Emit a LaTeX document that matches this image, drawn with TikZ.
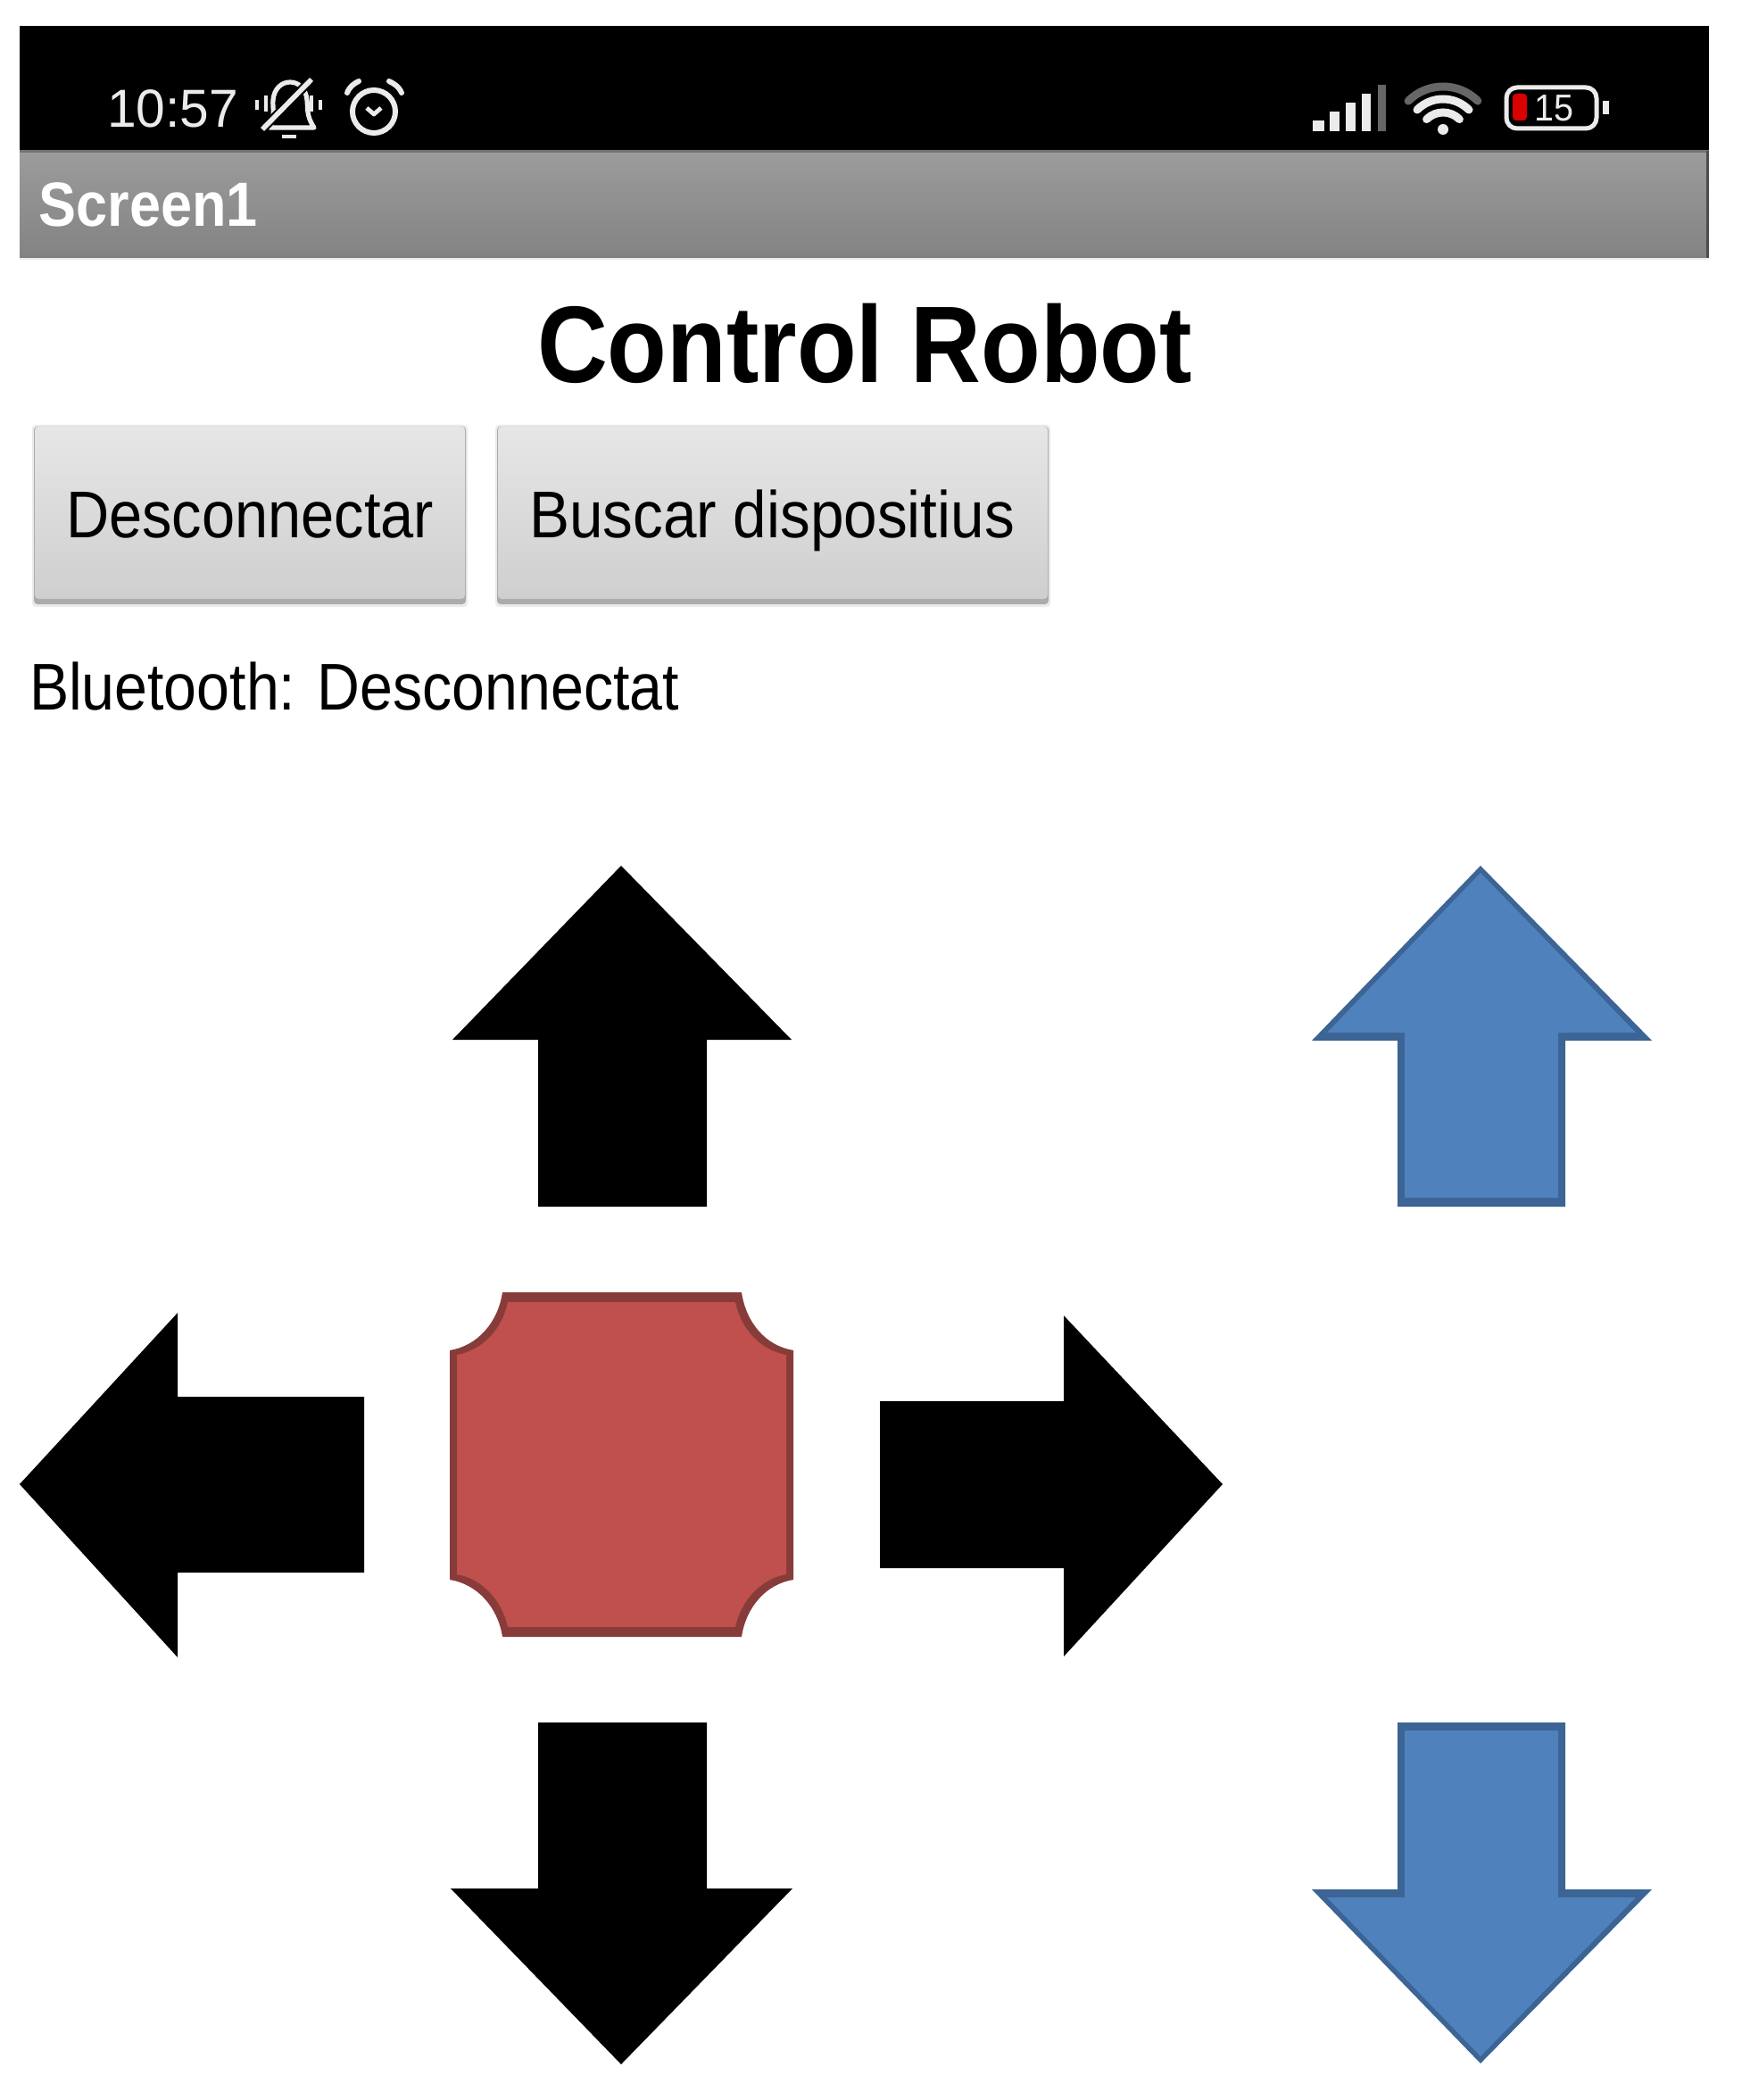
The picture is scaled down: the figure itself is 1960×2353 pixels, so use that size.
\documentclass[tikz,border=0pt]{standalone}
\usepackage{fontspec}
\usepackage{graphicx}
\setmainfont{Liberation Sans}
\newcommand{\fitw}[2]{\resizebox{#1}{\height}{#2}}
\tikzset{
  x=0.5pt,y=-0.5pt,
  lbl/.style={inner sep=0pt,outer sep=0pt,anchor=base west},
  icon/.style={draw=white!92!black,line width=2.5pt},
  btn/.style={top color=btntop,bottom color=btnbot,draw=none},
  btnedge/.style={fill=btnedgec,draw=none},
  solidarrow/.style={fill=black,draw=none},
  blueout/.style={fill=bluestroke,draw=none},
  bluein/.style={fill=bluefill,draw=none},
  redout/.style={fill=redstroke,draw=none},
  redin/.style={fill=redfill,draw=none},
}
\definecolor{btntop}{HTML}{E6E6E6}
\definecolor{btnbot}{HTML}{CFCFCF}
\definecolor{btnedgec}{HTML}{ABABAB}
\definecolor{bluestroke}{HTML}{3C6494}
\definecolor{bluefill}{HTML}{4F81BD}
\definecolor{redstroke}{HTML}{873C3A}
\definecolor{redfill}{HTML}{C0504D}
\definecolor{bartop}{HTML}{9C9C9C}
\definecolor{barbot}{HTML}{838383}
\begin{document}
\begin{tikzpicture}
\useasboundingbox (0,0) rectangle (1960,2353);
\fill[white] (0,0) rectangle (1960,2353);

% status bar
\fill[black] (22,29) rectangle (1915,169);
\shade[top color=bartop,bottom color=barbot] (22,169) rectangle (1915,288);
\fill[black!55] (22,168) rectangle (1915,171);
\fill[black!50] (22,286) rectangle (1915,289);
\fill[black!8] (22,289) rectangle (1915,291);
\fill[black!70] (1912,169) rectangle (1915,289);

\node[lbl,text=white!92!black] (time) at (120,143) {\fontsize{30pt}{30pt}\selectfont\fitw{73.5pt}{10:57}};
\node[lbl,text=white,font=\bfseries] (screen) at (44,254) {\fontsize{35pt}{35pt}\selectfont\fitw{122.5pt}{Screen1}};

% muted bell
\begin{scope}[xshift=1.5pt]
\draw[icon,line width=2.6pt,line join=round] (299,143) .. controls (306,130) and (302,120) .. (303,112) .. controls (304,100) and (312,92) .. (322,92) .. controls (332,92) and (340,100) .. (341,112) .. controls (342,120) and (340,130) .. (349,143) -- cycle;
\draw[black,line width=5pt] (291,145) -- (347,88);
\draw[icon,line width=2.8pt] (291,145) -- (346,89);
\draw[icon,line width=2.2pt] (285,112) -- (285,123);
\draw[icon,line width=2.2pt] (295,107) -- (295,125);
\draw[icon,line width=2.2pt] (346,107) -- (346,125);
\draw[icon,line width=2.2pt] (356,112) -- (356,123);
\draw[icon,line width=2.2pt] (313,153) -- (329,153);
\end{scope}

% alarm clock
\draw[icon,line width=3pt] (419,125) circle [radius=24];
\draw[icon,line width=3pt,line cap=round] (389,104) .. controls (392,97) and (396,94) .. (402,91);
\draw[icon,line width=3pt,line cap=round] (436,91) .. controls (442,94) and (447,97) .. (450,104);
\draw[icon,line width=2.4pt,line join=round] (411,121) -- (419,128) -- (427,121);

% signal
\fill[white!92!black] (1471,135) rectangle (1484,147);
\fill[white!92!black] (1490,125) rectangle (1501,147);
\fill[white!92!black] (1508,115) rectangle (1519,147);
\fill[white!92!black] (1526,105) rectangle (1536,147);
\fill[black!60] (1544,95) rectangle (1553,147);

% wifi
\draw[black!60,line width=4.5pt,line cap=round] (1617,152) ++(-45:55) arc[start angle=-45,end angle=-135,radius=55];
\draw[icon,line width=4.5pt,line cap=round] (1617,152) ++(-45:41) arc[start angle=-45,end angle=-135,radius=41];
\draw[icon,line width=4.5pt,line cap=round] (1617,152) ++(-45:26) arc[start angle=-45,end angle=-135,radius=26];
\fill[white!92!black] (1617,145) circle [radius=6];

% battery
\draw[icon,rounded corners=6pt] (1688,98) rectangle (1789,144);
\fill[red!85!black,rounded corners=2pt] (1695,105) rectangle (1711,135);
\node[lbl,text=white!92!black] (batt) at (1719,136) {\fontsize{21pt}{21pt}\selectfont\fitw{22pt}{15}};
\fill[white!92!black] (1796,113) rectangle (1803,128);

% title
\node[lbl,font=\bfseries] (title) at (602,429) {\fontsize{61pt}{61pt}\selectfont\fitw{367pt}{Control Robot}};

% buttons
\fill[black!8,rounded corners=2pt] (36,476) rectangle (524,680);
\fill[black!8,rounded corners=2pt] (555,476) rectangle (1177,680);
\path[btnedge,rounded corners=2pt] (38,478) rectangle (522,677);
\shade[btn,rounded corners=2pt] (39,478) rectangle (521,671);
\path[btnedge,rounded corners=2pt] (557,478) rectangle (1175,677);
\shade[btn,rounded corners=2pt] (558,478) rectangle (1174,671);
\node[lbl] (b1) at (74,603) {\fontsize{37pt}{37pt}\selectfont\fitw{206pt}{Desconnectar}};
\node[lbl] (b2) at (593,603) {\fontsize{37pt}{37pt}\selectfont\fitw{272pt}{Buscar dispositius}};
\node[lbl] (bt) at (33,795) {\fontsize{37pt}{37pt}\selectfont\fitw{364pt}{Bluetooth: Desconnectat}};

% black arrows
\path[solidarrow] (696,970) -- (887,1165) -- (792,1165) -- (792,1352) -- (603,1352) -- (603,1165) -- (507,1165) -- cycle;
\path[solidarrow] (22,1663) -- (199,1471) -- (199,1565) -- (408,1565) -- (408,1762) -- (199,1762) -- (199,1857) -- cycle;
\path[solidarrow] (1370,1663) -- (1192,1474) -- (1192,1570) -- (986,1570) -- (986,1757) -- (1192,1757) -- (1192,1856) -- cycle;
\path[solidarrow] (696,2313) -- (888,2116) -- (792,2116) -- (792,1930) -- (603,1930) -- (603,2116) -- (505,2116) -- cycle;

% blue arrows
\path[blueout] (1659,970) -- (1851,1166) -- (1754,1166) -- (1754,1352) -- (1566,1352) -- (1566,1166) -- (1470,1166) -- cycle;
\path[bluein] (1659,978) -- (1833,1157) -- (1746,1157) -- (1746,1342) -- (1574,1342) -- (1574,1157) -- (1487,1157) -- cycle;
\path[blueout] (1659,2312) -- (1851,2117) -- (1754,2117) -- (1754,1930) -- (1566,1930) -- (1566,2117) -- (1470,2117) -- cycle;
\path[bluein] (1659,2304) -- (1833,2126) -- (1746,2126) -- (1746,1939) -- (1574,1939) -- (1574,2126) -- (1487,2126) -- cycle;

% stop button
\path[redout]
  (563,1448) -- (831,1448)
  .. controls (836,1482) and (858,1508) .. (889,1513)
  -- (889,1770)
  .. controls (858,1775) and (836,1801) .. (831,1834)
  -- (563,1834)
  .. controls (558,1801) and (535,1775) .. (504,1770)
  -- (504,1513)
  .. controls (535,1508) and (558,1482) .. (563,1448) -- cycle;
\path[redin]
  (569,1459) -- (824,1459)
  .. controls (830,1489) and (852,1513) .. (881,1518)
  -- (881,1764)
  .. controls (852,1769) and (830,1794) .. (824,1823)
  -- (569,1823)
  .. controls (563,1794) and (541,1769) .. (512,1764)
  -- (512,1518)
  .. controls (541,1513) and (563,1489) .. (569,1459) -- cycle;
\end{tikzpicture}
\end{document}
